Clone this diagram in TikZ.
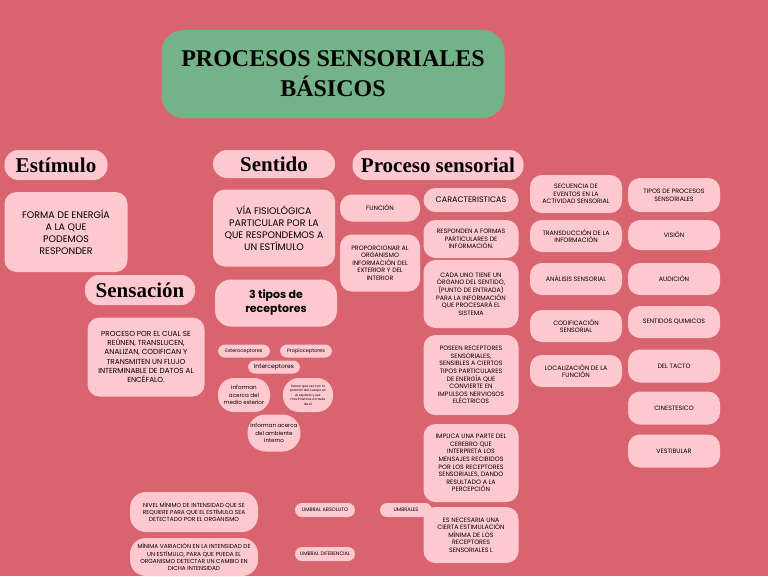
\documentclass[tikz,border=0pt]{standalone}
\usepackage{fontspec}
\setmainfont{Poppins}
\newfontfamily\hfont{Liberation Serif}
\usetikzlibrary{backgrounds}
\definecolor{bg}{HTML}{D9646F}
\definecolor{pk}{HTML}{FFC9CF}
\definecolor{gr}{HTML}{73B387}
\tikzset{
 pbox/.style={fill=pk, rounded corners=12pt, align=center, inner sep=1pt, font=\fontsize{6.3}{7.6}\selectfont},
 big/.style={pbox, font=\fontsize{9.5}{12}\selectfont},
 head/.style={pbox, rounded corners=14pt, font=\hfont\bfseries\fontsize{21}{24}\selectfont},
 tiny/.style={pbox, rounded corners=7pt, font=\fontsize{5}{6}\selectfont},
 wire/.style={line width=2.6pt, black}
}
\newcommand\bx[6]{\node[#1, minimum width=#4pt, minimum height=#5pt] (#6) at ({#2},{#3})}
\begin{document}
\begin{tikzpicture}[x=1pt,y=-1pt]
\fill[bg] (0,0) rectangle (768,576);
\useasboundingbox (0,0) rectangle (768,576);
\node[fill=gr, rounded corners=22pt, minimum width=343pt, minimum height=88pt, align=center, font=\hfont\bfseries\fontsize{24}{30}\selectfont] (title) at (333,74) {PROCESOS SENSORIALES\\BÁSICOS};
% left
\bx{head}{56}{165}{103}{30}{stim} {Estímulo};
\bx{big}{66}{232}{123}{80}{forma} {FORMA DE ENERGÍA\\A LA QUE\\PODEMOS\\RESPONDER};
\bx{head}{140}{290}{110}{30}{sens} {Sensación};
\bx{pbox,font=\fontsize{7.3}{9.3}\selectfont}{146}{357}{117}{79}{proc} {PROCESO POR EL CUAL SE\\REÚNEN, TRANSLUCEN,\\ANALIZAN, CODIFICAN Y\\TRANSMITEN UN FLUJO\\INTERMINABLE DE DATOS AL\\ENCÉFALO.};
% sentido
\bx{head}{274}{164}{122}{28}{sent} {Sentido};
\bx{big}{274}{228}{122}{77}{via} {VÍA FISIOLÓGICA\\PARTICULAR POR LA\\QUE RESPONDEMOS A\\UN ESTÍMULO};
\bx{pbox,font=\bfseries\fontsize{11}{14}\selectfont, rounded corners=16pt}{276}{303}{122}{47}{tres} {3 tipos de\\receptores};
\bx{tiny}{244}{351}{52}{13}{ext} {Exteroceptores};
\bx{tiny}{306}{351}{52}{13}{prop} {Propioceptores};
\bx{tiny,font=\fontsize{6}{7}\selectfont}{274}{367}{52}{13}{inter} {Interceptores};
\bx{tiny,rounded corners=16pt,font=\fontsize{5.6}{7.4}\selectfont}{244}{395}{52}{34}{medio} {informan\\acerca del\\medio exterior};
\bx{tiny,rounded corners=16pt,font=\fontsize{3.2}{4.4}\selectfont}{308}{395}{50}{34}{tien} {tienen que ver con la\\posición del cuerpo en\\el espacio y sus\\movimientos a través\\de él};
\bx{tiny,rounded corners=18pt,font=\fontsize{5.6}{7.4}\selectfont}{274}{433}{53}{37}{amb} {informan acerca\\del ambiente\\interno};
% proceso
\bx{head}{438}{165}{171}{30}{ps} {Proceso sensorial};
\bx{pbox}{380}{208}{80}{27}{func} {FUNCIÓN};
\bx{pbox}{380}{263}{80}{57}{prop2} {PROPORCIONAR AL\\ORGANISMO\\INFORMACIÓN DEL\\EXTERIOR Y DEL\\INTERIOR};
\bx{pbox,font=\fontsize{8}{10}\selectfont}{471}{200}{95}{24}{car} {CARACTERISTICAS};
\bx{pbox}{471}{239}{95}{38}{c1} {RESPONDEN A FORMAS\\PARTICULARES DE\\INFORMACIÓN.};
\bx{pbox}{471}{294}{95}{68}{c2} {CADA UNO TIENE UN\\ÓRGANO DEL SENTIDO,\\(PUNTO DE ENTRADA)\\PARA LA INFORMACIÓN\\QUE PROCESARÁ EL\\SISTEMA};
\bx{pbox}{471}{375}{95}{80}{c3} {POSEEN RECEPTORES\\SENSORIALES,\\SENSIBLES A CIERTOS\\TIPOS PARTICULARES\\DE ENERGÍA QUE\\CONVIERTE EN\\IMPULSOS NERVIOSOS\\ELÉCTRICOS};
\bx{pbox}{471}{463}{95}{78}{c4} {IMPLICA UNA PARTE DEL\\CEREBRO QUE\\INTERPRETA LOS\\MENSAJES RECIBIDOS\\POR LOS RECEPTORES\\SENSORIALES, DANDO\\RESULTADO A LA\\PERCEPCIÓN};
\bx{pbox}{471}{535}{95}{56}{c5} {ES NECESARIA UNA\\CIERTA ESTIMULACIÓN\\MÍNIMA DE LOS\\RECEPTORES\\SENSORIALES L};
% umbrales
\bx{tiny}{406}{510}{52}{14}{umb} {UMBRALES};
\bx{tiny}{325}{510}{60}{14}{uabs} {UMBRAL ABSOLUTO};
\bx{tiny}{325}{554}{60}{14}{udif} {UMBRAL DIFERENCIAL};
\bx{pbox,rounded corners=16pt,font=\fontsize{5.8}{7.2}\selectfont}{194}{512}{128}{40}{nivel} {NIVEL MÍNIMO DE INTENSIDAD QUE SE\\REQUIERE PARA QUE EL ESTÍMULO SEA\\DETECTADO POR EL ORGANISMO};
\bx{pbox,rounded corners=16pt,font=\fontsize{5.8}{7.2}\selectfont}{194}{557}{128}{38}{minv} {MÍNIMA VARIACIÓN EN LA INTENSIDAD DE\\UN ESTÍMULO, PARA QUE PUEDA EL\\ORGANISMO DETECTAR UN CAMBIO EN\\DICHA INTENSIDAD};
% secuencia
\bx{pbox}{576}{194}{92}{38}{sec} {SECUENCIA DE\\EVENTOS EN LA\\ACTIVIDAD SENSORIAL};
\bx{pbox}{576}{236}{92}{32}{s1} {TRANSDUCCIÓN DE LA\\INFORMACIÓN};
\bx{pbox}{576}{279}{92}{32}{s2} {ANÁLISIS SENSORIAL};
\bx{pbox}{576}{326}{92}{32}{s3} {CODIFICACIÓN\\SENSORIAL};
\bx{pbox}{576}{371}{92}{32}{s4} {LOCALIZACIÓN DE LA\\FUNCIÓN};
% tipos
\bx{pbox}{674}{195}{92}{34}{tip} {TIPOS DE PROCESOS\\SENSORIALES};
\bx{pbox}{674}{235}{92}{30}{t1} {VISIÓN};
\bx{pbox}{674}{279}{92}{32}{t2} {AUDICIÓN};
\bx{pbox}{674}{322}{92}{32}{t3} {SENTIDOS QUIMICOS};
\bx{pbox}{674}{366}{92}{33}{t4} {DEL TACTO};
\bx{pbox}{674}{408}{92}{33}{t5} {CINESTESICO};
\bx{pbox}{674}{451}{92}{33}{t6} {VESTIBULAR};
\coordinate (j0) at (333,135);
\coordinate (jA) at (67,135);
\coordinate (jB) at (148,135);
\coordinate (jC) at (275,135);
\coordinate (jD) at (450,135);
\coordinate (k1) at (243,333);
\coordinate (k2) at (308,333);
\coordinate (k0) at (275,333);
\coordinate (r0) at (672,165);
\coordinate (r1) at (578,165);
\coordinate (u1) at (406,553);
\begin{scope}[on background layer]
\fill[bg] (0,0) rectangle (768,576);
\draw[wire] (title) -- (j0);
\draw[wire] (jA) -- (jD);
\draw[wire] (jA) -- (jA |- forma.center);
\draw[wire] (jB) -- (jB |- proc.center);
\draw[wire] (jC) -- (jC |- amb.center);
\draw[wire] (jD) -- (jD |- ps.center);
\draw[wire] (k1) -- (k2);
\draw[wire] (k1) -- (k1 |- medio.center);
\draw[wire] (k2) -- (k2 |- tien.center);
\draw[wire] (ps.center) -- (r0) -- (r0 |- t6.center);
\draw[wire] (r1) -- (r1 |- s4.center);
\draw[wire] (381,170) -- (381,263);
\draw[wire] (473,170) -- (473,535);
\draw[wire] (nivel) -- (uabs) -- (umb) -- (c5.west |- umb);
\draw[wire] (umb) -- (u1) -- (udif) -- (minv);
\end{scope}
\end{tikzpicture}
\end{document}
